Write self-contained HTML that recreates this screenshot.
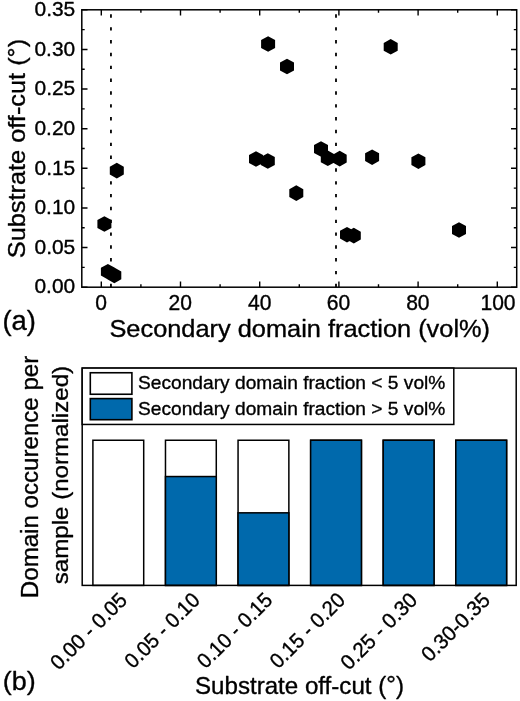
<!DOCTYPE html>
<html><head><meta charset="utf-8"><title>figure</title>
<style>html,body{margin:0;padding:0;background:#fff}svg{display:block}</style></head>
<body>
<svg width="520" height="701" viewBox="0 0 520 701" font-family='"Liberation Sans", Arial, sans-serif' fill="#000">
<rect width="520" height="701" fill="#fff"/>
<style>text{stroke:#000;stroke-width:0.35px;stroke-linejoin:round}</style>
<rect x="81.8" y="9.8" width="434.90000000000003" height="277.4" fill="none" stroke="#000" stroke-width="1.5"/>
<path d="M101.30,287.2v-5.7M101.30,9.8v5.7M140.90,287.2v-2.9M140.90,9.8v2.9M180.50,287.2v-5.7M180.50,9.8v5.7M220.10,287.2v-2.9M220.10,9.8v2.9M259.70,287.2v-5.7M259.70,9.8v5.7M299.30,287.2v-2.9M299.30,9.8v2.9M338.90,287.2v-5.7M338.90,9.8v5.7M378.50,287.2v-2.9M378.50,9.8v2.9M418.10,287.2v-5.7M418.10,9.8v5.7M457.70,287.2v-2.9M457.70,9.8v2.9M497.30,287.2v-5.7M497.30,9.8v5.7M81.8,287.20h5.7M516.7,287.20h-5.7M81.8,267.39h2.9M516.7,267.39h-2.9M81.8,247.57h5.7M516.7,247.57h-5.7M81.8,227.76h2.9M516.7,227.76h-2.9M81.8,207.94h5.7M516.7,207.94h-5.7M81.8,188.13h2.9M516.7,188.13h-2.9M81.8,168.31h5.7M516.7,168.31h-5.7M81.8,148.50h2.9M516.7,148.50h-2.9M81.8,128.69h5.7M516.7,128.69h-5.7M81.8,108.87h2.9M516.7,108.87h-2.9M81.8,89.06h5.7M516.7,89.06h-5.7M81.8,69.24h2.9M516.7,69.24h-2.9M81.8,49.43h5.7M516.7,49.43h-5.7M81.8,29.61h2.9M516.7,29.61h-2.9M81.8,9.80h5.7M516.7,9.80h-5.7" stroke="#000" stroke-width="1.4" fill="none"/>
<path d="M110.95,14.35v3.4M110.95,27.18v3.4M110.95,40.01v3.4M110.95,52.84v3.4M110.95,65.67v3.4M110.95,78.50v3.4M110.95,91.33v3.4M110.95,104.16v3.4M110.95,116.99v3.4M110.95,129.82v3.4M110.95,142.65v3.4M110.95,155.48v3.4M110.95,168.31v3.4M110.95,181.14v3.4M110.95,193.97v3.4M110.95,206.80v3.4M110.95,219.63v3.4M110.95,232.46v3.4M110.95,245.29v3.4M110.95,258.12v3.4M110.95,270.95v3.4M110.95,283.78v3.4" stroke="#000" stroke-width="1.8" fill="none"/>
<path d="M336.0,14.35v3.4M336.0,27.18v3.4M336.0,40.01v3.4M336.0,52.84v3.4M336.0,65.67v3.4M336.0,78.50v3.4M336.0,91.33v3.4M336.0,104.16v3.4M336.0,116.99v3.4M336.0,129.82v3.4M336.0,142.65v3.4M336.0,155.48v3.4M336.0,168.31v3.4M336.0,181.14v3.4M336.0,193.97v3.4M336.0,206.80v3.4M336.0,219.63v3.4M336.0,232.46v3.4M336.0,245.29v3.4M336.0,258.12v3.4M336.0,270.95v3.4M336.0,283.78v3.4" stroke="#000" stroke-width="1.8" fill="none"/>
<path d="M104.4,216.2l7.0,3.9v7.8l-7.0,3.9l-7.0,-3.9v-7.8zM107.9,263.9l7.0,3.9v7.8l-7.0,3.9l-7.0,-3.9v-7.8zM114.3,267.59999999999997l7.0,3.9v7.8l-7.0,3.9l-7.0,-3.9v-7.8zM116.8,162.79999999999998l7.0,3.9v7.8l-7.0,3.9l-7.0,-3.9v-7.8zM256.0,151.2l7.0,3.9v7.8l-7.0,3.9l-7.0,-3.9v-7.8zM267.8,153.2l7.0,3.9v7.8l-7.0,3.9l-7.0,-3.9v-7.8zM268.1,36.2l7.0,3.9v7.8l-7.0,3.9l-7.0,-3.9v-7.8zM287.0,58.7l7.0,3.9v7.8l-7.0,3.9l-7.0,-3.9v-7.8zM296.3,185.29999999999998l7.0,3.9v7.8l-7.0,3.9l-7.0,-3.9v-7.8zM321.0,141.2l7.0,3.9v7.8l-7.0,3.9l-7.0,-3.9v-7.8zM327.8,150.5l7.0,3.9v7.8l-7.0,3.9l-7.0,-3.9v-7.8zM339.7,150.79999999999998l7.0,3.9v7.8l-7.0,3.9l-7.0,-3.9v-7.8zM347.0,226.89999999999998l7.0,3.9v7.8l-7.0,3.9l-7.0,-3.9v-7.8zM353.8,227.79999999999998l7.0,3.9v7.8l-7.0,3.9l-7.0,-3.9v-7.8zM372.1,149.39999999999998l7.0,3.9v7.8l-7.0,3.9l-7.0,-3.9v-7.8zM390.7,39.0l7.0,3.9v7.8l-7.0,3.9l-7.0,-3.9v-7.8zM418.4,153.39999999999998l7.0,3.9v7.8l-7.0,3.9l-7.0,-3.9v-7.8zM459.0,222.2l7.0,3.9v7.8l-7.0,3.9l-7.0,-3.9v-7.8z" fill="#000"/>
<text transform="translate(34.48,293.45) scale(1.0361,1.0000)" font-size="20.20">0.00</text>
<text transform="translate(34.48,253.82) scale(1.0377,1.0000)" font-size="20.20">0.05</text>
<text transform="translate(34.48,214.19) scale(1.0361,1.0000)" font-size="20.20">0.10</text>
<text transform="translate(34.48,174.56) scale(1.0377,1.0000)" font-size="20.20">0.15</text>
<text transform="translate(34.48,134.94) scale(1.0361,1.0000)" font-size="20.20">0.20</text>
<text transform="translate(34.48,95.31) scale(1.0377,1.0000)" font-size="20.20">0.25</text>
<text transform="translate(34.48,55.68) scale(1.0361,1.0000)" font-size="20.20">0.30</text>
<text transform="translate(34.48,16.05) scale(1.0377,1.0000)" font-size="20.20">0.35</text>
<text transform="translate(95.24,309.70) scale(0.9900,1.0000)" font-size="21.30">0</text>
<text transform="translate(168.45,309.70) scale(0.9900,1.0000)" font-size="21.30">20</text>
<text transform="translate(247.94,309.70) scale(0.9900,1.0000)" font-size="21.30">40</text>
<text transform="translate(326.85,309.70) scale(0.9900,1.0000)" font-size="21.30">60</text>
<text transform="translate(406.13,309.70) scale(0.9900,1.0000)" font-size="21.30">80</text>
<text transform="translate(480.42,309.70) scale(0.9900,1.0000)" font-size="21.30">100</text>
<text transform="translate(109.45,337.30) scale(1.0568,1.0000)" font-size="24.00">Secondary domain fraction (vol%)</text>
<text transform="translate(25.10,258.25) rotate(-90) scale(1.1015,1.0000)" font-size="23.00">Substrate off-cut (<tspan dy="-0.065em">°</tspan><tspan dy="0.065em">)</tspan></text>
<text transform="translate(2.50,329.90) scale(1.0190,1.0000)" font-size="26.90">(a)</text>
<rect x="92.90" y="440.25" width="50.8" height="145.15" fill="#fff" stroke="#000" stroke-width="1.5"/>
<rect x="165.48" y="440.25" width="50.8" height="145.15" fill="#fff" stroke="#000" stroke-width="1.5"/>
<rect x="165.48" y="476.54" width="50.8" height="108.86" fill="#0069AC" stroke="#000" stroke-width="1.5"/>
<rect x="238.06" y="440.25" width="50.8" height="145.15" fill="#fff" stroke="#000" stroke-width="1.5"/>
<rect x="238.06" y="512.83" width="50.8" height="72.57" fill="#0069AC" stroke="#000" stroke-width="1.5"/>
<rect x="310.64" y="440.25" width="50.8" height="145.15" fill="#fff" stroke="#000" stroke-width="1.5"/>
<rect x="310.64" y="440.25" width="50.8" height="145.15" fill="#0069AC" stroke="#000" stroke-width="1.5"/>
<rect x="383.22" y="440.25" width="50.8" height="145.15" fill="#fff" stroke="#000" stroke-width="1.5"/>
<rect x="383.22" y="440.25" width="50.8" height="145.15" fill="#0069AC" stroke="#000" stroke-width="1.5"/>
<rect x="455.80" y="440.25" width="50.8" height="145.15" fill="#fff" stroke="#000" stroke-width="1.5"/>
<rect x="455.80" y="440.25" width="50.8" height="145.15" fill="#0069AC" stroke="#000" stroke-width="1.5"/>
<rect x="82.2" y="368.1" width="434.00000000000006" height="217.29999999999995" fill="none" stroke="#000" stroke-width="1.5"/>
<rect x="82.2" y="368.1" width="371.6" height="56.349999999999966" fill="#fff" stroke="#000" stroke-width="1.5"/>
<rect x="90.3" y="372.75" width="41.6" height="21.5" fill="#fff" stroke="#000" stroke-width="1.6"/>
<rect x="90.3" y="398.6" width="41.6" height="21.1" fill="#0069AC" stroke="#000" stroke-width="1.6"/>
<text transform="translate(138.03,389.20) scale(1.0041,1.0000)" font-size="19.10">Secondary domain fraction &lt; 5 vol%</text>
<text transform="translate(138.03,414.50) scale(1.0041,1.0000)" font-size="19.10">Secondary domain fraction &gt; 5 vol%</text>
<text transform="translate(38.40,598.18) rotate(-90) scale(1.0483,1.0150)" font-size="23.00">Domain occurence per</text>
<text transform="translate(68.00,584.27) rotate(-90) scale(1.0486,0.9700)" font-size="23.00">sample (normalized)</text>
<text transform="translate(58.76,670.94) rotate(-45) scale(0.9810,1.0000)" font-size="21.00">0.00 - 0.05</text>
<text transform="translate(132.99,669.59) rotate(-45) scale(0.9612,1.0000)" font-size="21.00">0.05 - 0.10</text>
<text transform="translate(205.62,669.54) rotate(-45) scale(0.9612,1.0000)" font-size="21.00">0.10 - 0.15</text>
<text transform="translate(278.15,669.59) rotate(-45) scale(0.9612,1.0000)" font-size="21.00">0.15 - 0.20</text>
<text transform="translate(349.04,670.98) rotate(-45) scale(0.9810,1.0000)" font-size="21.00">0.25 - 0.30</text>
<text transform="translate(429.76,662.84) rotate(-45) scale(0.9810,1.0000)" font-size="21.00">0.30-0.35</text>
<text transform="translate(195.00,693.70) scale(1.0140,1.0000)" font-size="23.80">Substrate off-cut (<tspan dy="-0.065em">°</tspan><tspan dy="0.065em">)</tspan></text>
<text transform="translate(2.73,690.20) scale(1.0612,1.0000)" font-size="25.40">(b)</text>
</svg>
</body></html>
